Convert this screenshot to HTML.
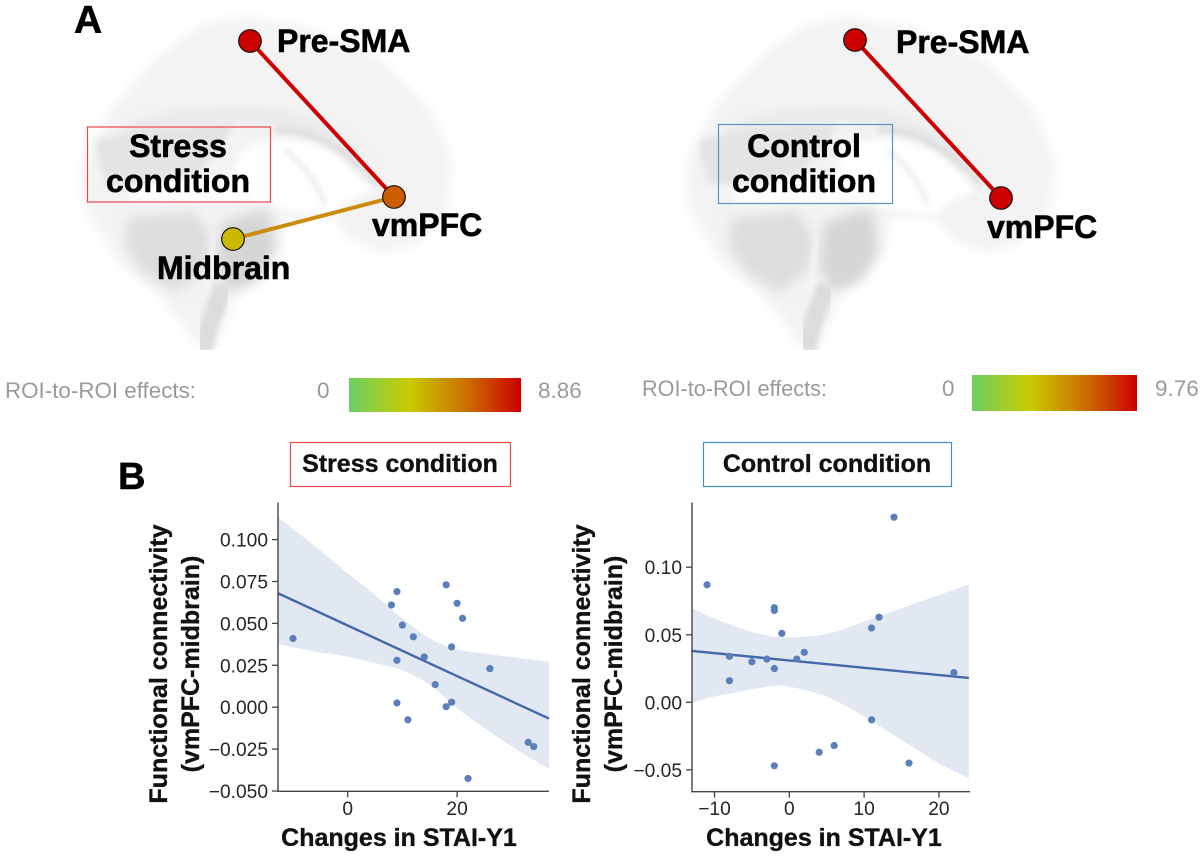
<!DOCTYPE html>
<html lang="en">
<head>
<meta charset="utf-8">
<title>Functional connectivity figure</title>
<style>
html,body{margin:0;padding:0;background:#fff;}
svg{display:block;font-family:"Liberation Sans",Arial,sans-serif;}
.lbl{font-weight:bold;font-size:32px;fill:#000;stroke:#000;stroke-width:.6px;}
.tick{font-size:19.2px;fill:#262626;}
.axt{font-weight:bold;font-size:25px;fill:#111;stroke:#111;stroke-width:.35px;}
.leg{font-size:22.5px;fill:#9a9a9a;}
</style>
</head>
<body>
<svg id="fig" width="1200" height="857" viewBox="0 0 1200 857" xmlns="http://www.w3.org/2000/svg">
<defs>
<filter id="bl" x="-15%" y="-15%" width="130%" height="130%"><feGaussianBlur stdDeviation="6"/></filter>
<filter id="bl2" x="-20%" y="-20%" width="140%" height="140%"><feGaussianBlur stdDeviation="3"/></filter>
<linearGradient id="cb" x1="0" x2="1" y1="0" y2="0">
<stop offset="0" stop-color="#6ccf64"/>
<stop offset="0.35" stop-color="#c8cc00"/>
<stop offset="0.7" stop-color="#cc6a00"/>
<stop offset="1" stop-color="#cc0000"/>
</linearGradient>
<g id="brain">
<path filter="url(#bl)" fill="#f3f3f3" d="M82,167 L110,110 L155,60 L203,24 L245,17 L306,27 L380,60 L430,110 L452,160 L448,207 L418,243 L383,253 L348,238 L333,218 L285,217 L280,250 L240,290 L214,345 L196,345 L184,325 L155,290 L118,262 L85,207 Z"/>
<path filter="url(#bl2)" fill="#fff" d="M120,50 L60,150 L40,120 L120,20 Z" opacity="0"/>
<path filter="url(#bl)" fill="none" stroke="#e8e8e8" stroke-width="14" d="M105,165 C115,135 150,118 205,116 C260,108 320,118 360,165"/>
<path filter="url(#bl2)" fill="none" stroke="#dadada" stroke-width="5" d="M275,130 C310,128 350,150 378,185"/>
<path filter="url(#bl2)" fill="#fff" d="M240,152 C262,134 320,134 350,168 L372,190 L345,203 L332,215 L280,208 L225,197 Z"/>
<path filter="url(#bl2)" fill="#e4e4e4" d="M95,140 L160,128 L235,124 L215,155 L190,180 L105,185 Z"/>
<path filter="url(#bl2)" fill="#fdfdfd" d="M130,190 L205,172 L255,195 L225,203 L130,203 Z"/>
<path filter="url(#bl2)" fill="none" stroke="#e8e8e8" stroke-width="4" d="M285,150 C305,165 318,185 325,205"/>
<path filter="url(#bl)" fill="#dddddd" d="M128,218 L195,212 L212,240 L205,272 L175,292 L142,272 L125,245 Z"/>
<path filter="url(#bl)" fill="#d6d6d6" d="M222,222 L268,208 L276,250 L258,282 L228,292 L216,265 Z"/>
<path filter="url(#bl2)" fill="none" stroke="#dcdcdc" stroke-width="19" stroke-linecap="butt" d="M224,285 C216,310 206,325 204,352"/>
<path filter="url(#bl2)" fill="none" stroke="#f6f6f6" stroke-width="4" d="M214,232 C212,250 212,265 207,285"/>
<rect x="150" y="350" width="100" height="14" fill="#fff"/>
</g>
</defs>

<use href="#brain"/>
<use href="#brain" x="603"/>

<text x="74" y="33" font-size="39" font-weight="bold" stroke="#000" stroke-width=".5">A</text>
<text x="118" y="489" font-size="38" font-weight="bold" stroke="#000" stroke-width=".5">B</text>

<!-- Stress network -->
<rect x="87.5" y="127" width="183" height="75" fill="none" stroke="#e8484e" stroke-width="1.2"/>
<text class="lbl" x="178" y="157" text-anchor="middle">Stress</text>
<text class="lbl" x="178" y="192" text-anchor="middle">condition</text>
<line x1="250" y1="41" x2="394" y2="197" stroke="#cc0000" stroke-width="4"/>
<line x1="233" y1="239" x2="394" y2="197" stroke="#cc8c10" stroke-width="4"/>
<circle cx="250" cy="41" r="11.3" fill="#cc0000" stroke="#111" stroke-width="1.2"/>
<circle cx="394" cy="197" r="11.3" fill="#cc5c00" stroke="#111" stroke-width="1.2"/>
<circle cx="233" cy="239" r="11.3" fill="#ccb800" stroke="#111" stroke-width="1.2"/>
<text class="lbl" x="277" y="52">Pre-SMA</text>
<text class="lbl" x="372" y="236">vmPFC</text>
<text class="lbl" x="157" y="279">Midbrain</text>

<!-- Control network -->
<rect x="718.5" y="124.5" width="174" height="79" fill="none" stroke="#5a94c8" stroke-width="1.2"/>
<text class="lbl" x="804" y="157" text-anchor="middle">Control</text>
<text class="lbl" x="804" y="192" text-anchor="middle">condition</text>
<line x1="855" y1="40" x2="1001" y2="198" stroke="#cc0000" stroke-width="4"/>
<circle cx="855" cy="40" r="11.3" fill="#cc0000" stroke="#111" stroke-width="1.2"/>
<circle cx="1001" cy="198" r="11.3" fill="#cc0000" stroke="#111" stroke-width="1.2"/>
<text class="lbl" x="896" y="53">Pre-SMA</text>
<text class="lbl" x="987" y="238">vmPFC</text>

<!-- Colorbars -->
<text class="leg" x="5" y="398" textLength="191" lengthAdjust="spacingAndGlyphs">ROI-to-ROI effects:</text>
<text class="leg" x="317" y="398">0</text>
<rect x="349" y="378" width="172" height="34" fill="url(#cb)"/>
<text class="leg" x="538" y="398">8.86</text>
<text class="leg" x="642" y="396" textLength="185" lengthAdjust="spacingAndGlyphs">ROI-to-ROI effects:</text>
<text class="leg" x="942" y="396">0</text>
<rect x="972" y="375" width="165" height="36" fill="url(#cb)"/>
<text class="leg" x="1155" y="396">9.76</text>

<!-- Chart titles -->
<rect x="290.5" y="442.5" width="220" height="44" fill="#fff" stroke="#e8484e" stroke-width="1.2"/>
<text x="400" y="472" text-anchor="middle" class="axt">Stress condition</text>
<rect x="703.5" y="442.5" width="248" height="44" fill="#fff" stroke="#3f8fc4" stroke-width="1.2"/>
<text x="827" y="472" text-anchor="middle" class="axt">Control condition</text>

<g id="chart-stress"></g>
<g id="chart-control"></g>
</svg>

<script>
// ---- Stress chart data ----
var stressX = [-10, 8, 9, 9, 9, 10, 11, 12, 14, 16, 18, 18, 19, 19, 20, 21, 22, 26, 33, 34];
var stressY = [0.041, 0.061, 0.069, 0.028, 0.0025, 0.049, -0.0075, 0.042, 0.030, 0.0135, 0.073, 0.0003, 0.036, 0.003, 0.062, 0.053, -0.0425, 0.023, -0.021, -0.0235];
var stressFitX = [-12.75, 36.8];
var stressFitY = [0.068, -0.0068];
var stressBandX = [-12.75, -5, 0, 5, 10, 15, 20, 25, 30, 36.8];
var stressBandHigh = [0.1134, 0.0935, 0.080, 0.067, 0.053, 0.041, 0.0346, 0.032, 0.030, 0.027];
var stressBandLow = [0.0378, 0.0326, 0.0302, 0.0263, 0.022, 0.0133, -0.0006, -0.0125, -0.0235, -0.0368];
var stressXTicks = [0, 20];
var stressXTickLabels = ['0', '20'];
var stressYTicks = [0.1, 0.075, 0.05, 0.025, 0, -0.025, -0.05];
var stressYTickLabels = ['0.100', '0.075', '0.050', '0.025', '0.000', '\u22120.025', '\u22120.050'];

// ---- Control chart data ----
var controlX = [-11, -8, -8, -5, -3, -2, -2, -2, -2, -1, 1, 2, 4, 6, 11, 11, 12, 14, 16, 22];
var controlY = [0.087, 0.034, 0.016, 0.030, 0.032, 0.070, 0.068, 0.025, -0.047, 0.051, 0.032, 0.037, -0.037, -0.032, 0.055, -0.013, 0.063, 0.137, -0.045, 0.022];
var controlFitX = [-13, 24];
var controlFitY = [0.038, 0.018];
var controlBandX = [-13, -10, -5, -2, 0, 5, 10, 15, 20, 24];
var controlBandHigh = [0.0696, 0.062, 0.052, 0.0486, 0.048, 0.0506, 0.0597, 0.0696, 0.0794, 0.0876];
var controlBandLow = [-0.0002, 0.0042, 0.0096, 0.0121, 0.0116, 0.0042, -0.0106, -0.0279, -0.0451, -0.0562];
var controlXTicks = [-10, 0, 10, 20];
var controlXTickLabels = ['\u221210', '0', '10', '20'];
var controlYTicks = [0.1, 0.05, 0, -0.05];
var controlYTickLabels = ['0.10', '0.05', '0.00', '\u22120.05'];

var NS = 'http://www.w3.org/2000/svg';

function mk(parent, tag, attrs) {
  var el = document.createElementNS(NS, tag);
  for (var k in attrs) { el.setAttribute(k, attrs[k]); }
  parent.appendChild(el);
  return el;
}

function smooth(pts) {
  var s = 'M' + pts[0][0] + ',' + pts[0][1];
  for (var i = 1; i < pts.length; i++) {
    var p0 = pts[Math.max(i - 2, 0)], p1 = pts[i - 1], p2 = pts[i], p3 = pts[Math.min(i + 1, pts.length - 1)];
    s += 'C' + (p1[0] + (p2[0] - p0[0]) / 6) + ',' + (p1[1] + (p2[1] - p0[1]) / 6) + ' ' +
         (p2[0] - (p3[0] - p1[0]) / 6) + ',' + (p2[1] - (p3[1] - p1[1]) / 6) + ' ' + p2[0] + ',' + p2[1];
  }
  return s;
}

function drawChart(cfg) {
  var g = document.getElementById(cfg.id);
  function sx(v) { return cfg.x0 + (v - cfg.xRef0) * cfg.xScale; }
  function sy(v) { return cfg.y0 - (v - cfg.yRef0) * cfg.yScale; }

  var hi = cfg.bandX.map(function (v, i) { return [sx(v), sy(cfg.bandHigh[i])]; });
  var lo = cfg.bandX.map(function (v, i) { return [sx(v), sy(cfg.bandLow[i])]; }).reverse();
  var d = smooth(hi) + 'L' + smooth(lo).slice(1) + 'Z';
  var band = mk(g, 'path', { d: d, fill: '#4c72b0', 'fill-opacity': 0.16 });
  
  

  var fit = mk(g, 'line', { x1: sx(cfg.fitX[0]), y1: sy(cfg.fitY[0]), x2: sx(cfg.fitX[1]), y2: sy(cfg.fitY[1]), stroke: '#4468a8', 'stroke-width': 2.4 });
  
  

  cfg.xs.forEach(function (v, i) {
    var p = mk(g, 'circle', { cx: sx(v), cy: sy(cfg.ys[i]), r: 3.6, fill: '#5b7fbb' });
    
    
  });

  var yAxis = mk(g, 'line', { x1: cfg.axisL, y1: cfg.axisT, x2: cfg.axisL, y2: cfg.axisB + 0.7, stroke: '#444', 'stroke-width': 1.4 });
  
  
  var xAxis = mk(g, 'line', { x1: cfg.axisL, y1: cfg.axisB, x2: cfg.axisR, y2: cfg.axisB, stroke: '#444', 'stroke-width': 1.4 });
  
  

  cfg.xTicks.forEach(function (v, i) {
    var t = mk(g, 'line', { x1: sx(v), y1: cfg.axisB, x2: sx(v), y2: cfg.axisB + 6, stroke: '#444', 'stroke-width': 1.3 });
    
    
    var l = mk(g, 'text', { x: sx(v), y: 815, 'text-anchor': 'middle', 'class': 'tick' });
    l.textContent = cfg.xTickLabels[i];
    
    
  });

  cfg.yTicks.forEach(function (v, i) {
    var t = mk(g, 'line', { x1: cfg.axisL - 6, y1: sy(v), x2: cfg.axisL, y2: sy(v), stroke: '#444', 'stroke-width': 1.3 });
    
    
    var l = mk(g, 'text', { x: cfg.axisL - 10, y: sy(v) + 7, 'text-anchor': 'end', 'class': 'tick' });
    l.textContent = cfg.yTickLabels[i];
    
    
  });

  var xt = mk(g, 'text', { x: cfg.xTitleX, y: 846, 'text-anchor': 'middle', 'class': 'axt' });
  xt.textContent = 'Changes in STAI-Y1';
  
  

  var y1 = mk(g, 'text', { transform: 'translate(' + cfg.yTitleX1 + ',664) rotate(-90)', 'text-anchor': 'middle', 'class': 'axt' });
  y1.textContent = 'Functional connectivity';
  
  
  var y2 = mk(g, 'text', { transform: 'translate(' + cfg.yTitleX2 + ',664) rotate(-90)', 'text-anchor': 'middle', 'class': 'axt' });
  y2.textContent = '(vmPFC-midbrain)';
  
  
}

drawChart({
  id: 'chart-stress',
  x0: 347.7, xRef0: 0, xScale: 5.47,
  y0: 791, yRef0: -0.05, yScale: 1676,
  axisL: 278, axisR: 549, axisT: 502.5, axisB: 791.3,
  xs: stressX, ys: stressY, fitX: stressFitX, fitY: stressFitY,
  bandX: stressBandX, bandHigh: stressBandHigh, bandLow: stressBandLow,
  xTicks: stressXTicks, xTickLabels: stressXTickLabels,
  yTicks: stressYTicks, yTickLabels: stressYTickLabels,
  xTitleX: 399, yTitleX1: 167, yTitleX2: 199
});

drawChart({
  id: 'chart-control',
  x0: 789.3, xRef0: 0, xScale: 7.48,
  y0: 702.3, yRef0: 0, yScale: 1351,
  axisL: 692, axisR: 970, axisT: 502.5, axisB: 791.7,
  xs: controlX, ys: controlY, fitX: controlFitX, fitY: controlFitY,
  bandX: controlBandX, bandHigh: controlBandHigh, bandLow: controlBandLow,
  xTicks: controlXTicks, xTickLabels: controlXTickLabels,
  yTicks: controlYTicks, yTickLabels: controlYTickLabels,
  xTitleX: 824, yTitleX1: 590, yTitleX2: 622
});
</script>
</body>
</html>
